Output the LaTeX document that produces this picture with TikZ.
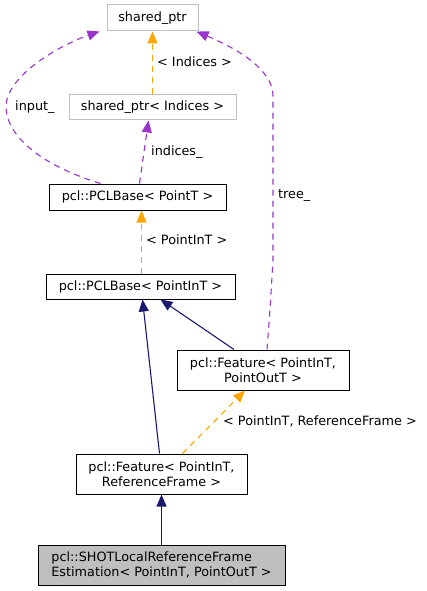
\documentclass[tikz,border=0pt]{standalone}
\usepackage{fontspec}
\setmainfont{DejaVu Sans}
\usepackage{xcolor}
\usetikzlibrary{arrows.meta}
\definecolor{inhcol}{HTML}{191970}
\definecolor{tplcol}{HTML}{FFA500}
\definecolor{usecol}{HTML}{9A32CD}
\definecolor{extcol}{HTML}{BFBFBF}
\definecolor{maincol}{HTML}{BFBFBF}
\tikzset{
  cls/.style={draw=black, line width=1pt, inner sep=2pt, font=\fontsize{12.8}{15}\selectfont, align=center},
  ext/.style={cls, draw=extcol},
  mainbox/.style={cls, fill=maincol, align=left},
  tip/.style={-{Triangle[length=12pt,width=10pt]}},
  inh/.style={tip, draw=inhcol, line width=1.1pt},
  tpl/.style={tip, draw=tplcol, line width=1.1pt, dash pattern=on 6pt off 5pt},
  use/.style={tip, draw=usecol, line width=1.1pt, dash pattern=on 6pt off 5pt},
  lab/.style={font=\fontsize{12.8}{15}\selectfont, anchor=west, inner sep=0pt},
}
\begin{document}
\begin{tikzpicture}[x=1pt,y=-1pt]
  \useasboundingbox (0,0) rectangle (426,591);

  \node[ext, minimum width=91pt, minimum height=26pt] (sp) at (152.5,18) {shared\_ptr};
  \node[ext, minimum width=167pt, minimum height=25pt] (spi) at (152.5,107.5) {shared\_ptr< Indices >};
  \node[cls, minimum width=177pt, minimum height=26pt] (pbt) at (137.5,197) {pcl::PCLBase< PointT >};
  \node[cls, minimum width=189pt, minimum height=25pt] (pbin) at (140.5,286.5) {pcl::PCLBase< PointInT >};
  \node[cls, minimum width=172pt, minimum height=40pt] (feo) at (263,370) {pcl::Feature< PointInT,\\ PointOutT >};
  \node[cls, minimum width=171pt, minimum height=40pt] (ferf) at (161.5,474) {pcl::Feature< PointInT,\\ ReferenceFrame >};
  \node[mainbox, minimum width=247pt, minimum height=40pt] (shot) at (161.5,565) {pcl::SHOTLocalReferenceFrame\\Estimation< PointInT, PointOutT >};

  % template instances
  \draw[tpl] (spi.north) -- (sp.south);
  \node[lab] at (157,62) {< Indices >};
  \draw[tpl] ([xshift=1pt]pbin.north) -- ([xshift=1pt]pbin.north |- pbt.south);
  \node[lab] at (146,240) {< PointInT >};
  \draw[tpl] ([xshift=21pt]ferf.north) -- ([xshift=-18pt]feo.south);
  \node[lab] at (223,421) {< PointInT, ReferenceFrame >};

  % members
  \draw[use] ([xshift=2pt]pbt.north) -- ([xshift=-4pt]spi.south);
  \node[lab] at (151,152) {indices\_};
  \draw[use] ([xshift=-37pt]pbt.north) .. controls (40,165) and (5,135) .. (6,105)
    .. controls (8,75) and (60,45) .. ([xshift=-7pt]sp.south west);
  \node[lab] at (15,107) {input\_};
  \draw[use] ([xshift=4pt]feo.north) .. controls (270,310) .. (273,260) -- (273,95)
    .. controls (272,70) and (240,50) .. ([xshift=-2pt]sp.south east);
  \node[lab] at (278,196) {tree\_};

  % inheritance
  \draw[inh] ([xshift=-2pt]ferf.north) -- ([xshift=2pt]pbin.south);
  \draw[inh] ([xshift=-29pt]feo.north) -- ([xshift=20pt]pbin.south);
  \draw[inh] (shot.north) -- (ferf.south);
\end{tikzpicture}
\end{document}
